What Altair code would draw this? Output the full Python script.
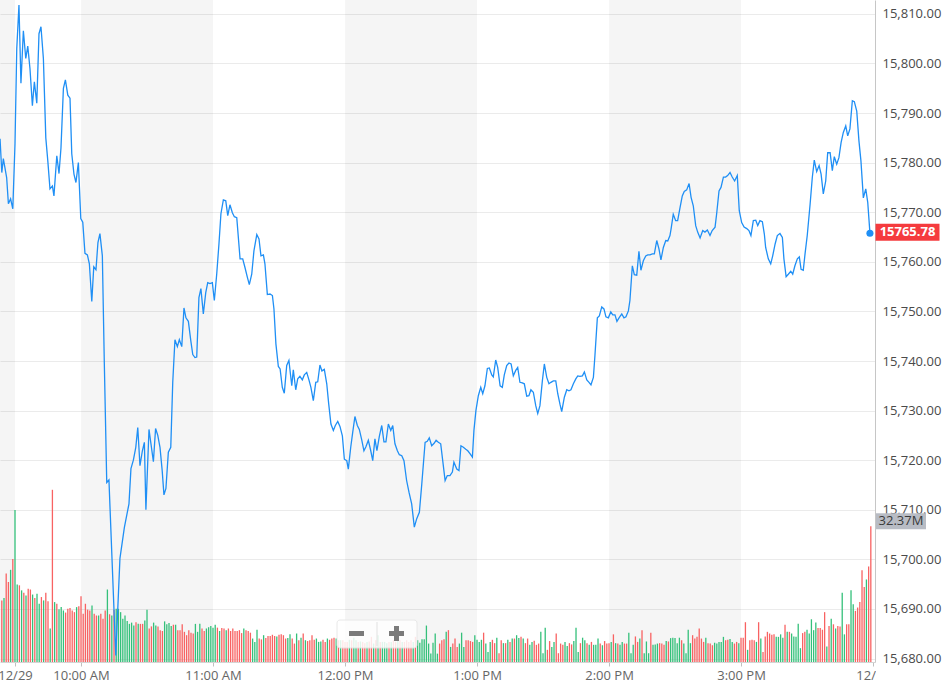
import json
import altair as alt
import pandas as pd

# ---------------- price series (minutes after 9:30, index level) ----------------
seg_a_min = [-6.8, -6.0, -5.3, -3.8, -3.0, -2.0, -1.0, 0.0, 0.8, 1.8, 2.7, 3.8, 4.9, 5.8, 6.8, 7.9, 8.8, 9.9,
             10.9, 11.8, 12.9, 14.0, 14.9, 15.9, 17.0, 17.7, 19.0, 20.0, 20.9, 22.0, 22.9, 24.0, 25.0, 25.8,
             26.8, 27.7, 28.8, 29.9, 30.8, 31.8, 32.9, 33.8, 34.9, 35.8, 36.8, 37.7, 38.6, 39.7, 40.6, 41.7, 42.7]
seg_a_val = [15784.8, 15778.0, 15780.8, 15777.0, 15771.7, 15772.7, 15770.7, 15783.8, 15803.0, 15811.8, 15796.0,
             15806.6, 15801.0, 15803.5, 15799.0, 15791.5, 15796.3, 15792.0, 15806.0, 15807.4, 15801.0, 15785.0,
             15780.4, 15774.7, 15775.3, 15773.3, 15781.4, 15777.8, 15783.0, 15795.0, 15796.7, 15793.6, 15793.0,
             15781.8, 15777.7, 15776.0, 15780.0, 15768.7, 15768.0, 15761.7, 15761.4, 15759.6, 15752.0, 15759.0,
             15758.4, 15763.9, 15765.7, 15761.2, 15739.5, 15715.5, 15716.0]

seg_b_min = [45.8, 47.7, 49.7, 51.8, 52.7, 53.8, 54.9, 55.8, 56.8, 57.9, 58.8, 59.5, 60.9, 61.8, 62.9, 63.9, 64.9,
             65.9, 66.9, 67.7, 68.6, 69.7, 70.8, 71.7, 72.7, 73.8, 74.7, 75.8, 76.8, 77.7, 78.8, 79.9, 80.8, 81.8,
             82.6, 83.6, 84.5, 85.6, 86.7, 87.6, 88.6, 89.7, 90.6, 91.7, 92.7, 93.6, 94.7, 95.8, 96.7, 97.7, 98.8,
             99.7, 100.8]
seg_b_val = [15680.6, 15700.2, 15706.4, 15711.2, 15718.3, 15720.0, 15722.6, 15726.6, 15718.9, 15721.9, 15723.6,
             15710.0, 15726.2, 15723.3, 15719.7, 15726.4, 15725.0, 15722.6, 15717.9, 15713.0, 15714.3, 15721.6,
             15722.6, 15735.7, 15744.3, 15742.9, 15744.3, 15742.9, 15750.7, 15748.7, 15748.0, 15744.1, 15741.3,
             15740.7, 15740.8, 15752.8, 15754.6, 15749.5, 15753.8, 15755.8, 15755.6, 15755.8, 15752.2, 15757.6,
             15763.6, 15769.7, 15772.5, 15772.3, 15769.3, 15771.5, 15769.9, 15769.1, 15768.9]

seg_c_min = [102.3, 103.5, 104.5, 105.6, 106.5, 107.6, 108.6, 109.9, 110.9, 111.8, 112.9, 113.6, 114.7, 115.9,
             117.0, 117.7, 118.6, 119.7, 120.5, 121.5, 122.4, 123.5, 124.5, 125.8, 126.5, 127.6, 128.5, 129.5,
             130.6, 131.5, 132.6, 133.6, 134.5, 135.6, 136.7, 137.6, 138.6, 139.5, 140.6, 141.7, 142.6, 143.6,
             144.7, 145.6, 146.7, 147.7, 148.8, 149.7, 150.8, 151.5, 152.6, 153.5, 154.5, 155.6, 156.5, 157.6,
             158.6, 159.5, 160.6, 161.7, 162.6, 163.6, 164.5, 165.6, 166.7, 167.7, 168.6, 169.7, 170.8, 171.7,
             172.7, 173.8, 174.7, 175.8, 176.8]
seg_c_val = [15760.6, 15760.6, 15758.9, 15756.9, 15755.4, 15757.5, 15762.2, 15765.5, 15764.6, 15761.2, 15761.4,
             15759.6, 15753.4, 15753.5, 15753.2, 15750.5, 15743.4, 15738.9, 15738.4, 15734.7, 15733.5, 15739.1,
             15740.1, 15735.0, 15738.2, 15734.2, 15736.4, 15736.9, 15736.2, 15737.2, 15737.7, 15736.2, 15734.7,
             15732.0, 15735.7, 15735.8, 15739.2, 15738.0, 15738.3, 15735.4, 15731.3, 15727.3, 15726.0, 15727.0,
             15727.8, 15726.8, 15724.9, 15720.2, 15719.9, 15718.2, 15722.6, 15725.6, 15728.8, 15727.0, 15726.2,
             15724.1, 15721.9, 15722.7, 15724.0, 15721.9, 15719.9, 15724.3, 15721.9, 15724.8, 15727.0, 15723.7,
             15723.7, 15727.3, 15726.0, 15727.0, 15723.3, 15721.9, 15721.1, 15720.9, 15719.9]

seg_d_min = [178.0, 179.1, 180.3, 181.5, 182.6, 183.8, 184.9, 186.4, 187.4, 188.3, 189.4, 190.5, 191.4, 192.4,
             193.5, 195.5, 196.5, 197.7, 198.8, 199.5, 200.8, 201.8, 202.7, 203.8, 204.9, 205.8, 206.8, 207.9,
             208.6, 209.5, 210.6, 211.7, 212.6, 213.6, 214.7, 215.6, 216.7, 217.4, 218.5, 219.4, 220.5, 221.5,
             222.4, 223.5, 224.5, 225.5, 226.5, 227.6, 228.5, 229.5, 230.6, 231.5, 232.6, 233.6, 234.5, 235.6,
             236.7, 237.6, 238.6, 239.7, 240.6, 241.7, 242.7, 243.6, 244.7, 245.8, 246.7, 247.7, 248.5, 249.7,
             250.8, 251.8, 252.7, 253.8, 254.9, 255.8, 256.8, 257.9, 258.8, 259.9, 260.9, 261.8, 262.9]
seg_d_val = [15715.9, 15713.5, 15711.2, 15706.5, 15708.2, 15709.5, 15715.2, 15723.6, 15723.8, 15724.5, 15722.9,
             15723.4, 15724.0, 15723.6, 15723.3, 15715.9, 15716.9, 15716.9, 15717.6, 15719.6, 15718.2, 15717.9,
             15722.9, 15722.6, 15722.2, 15721.9, 15721.3, 15720.6, 15726.0, 15730.0, 15733.0, 15734.7, 15733.4,
             15735.0, 15738.5, 15738.6, 15737.2, 15736.8, 15740.2, 15738.7, 15735.0, 15734.7, 15737.2, 15739.1,
             15739.6, 15739.4, 15737.0, 15738.1, 15738.7, 15735.7, 15735.6, 15735.4, 15732.9, 15733.0, 15734.2,
             15733.7, 15731.0, 15729.4, 15731.0, 15736.0, 15739.4, 15736.7, 15735.4, 15735.7, 15736.0, 15736.0,
             15733.4, 15731.3, 15729.8, 15732.7, 15734.2, 15734.0, 15734.2, 15735.4, 15736.4, 15737.0, 15736.9,
             15737.0, 15737.8, 15736.2, 15735.7, 15735.2, 15736.7]

seg_e_min = [263.6, 264.7, 265.6, 266.7, 267.7, 268.6, 269.7, 270.8, 271.7, 272.7, 273.6, 274.7, 275.8, 276.8,
             277.7, 278.8, 279.5, 280.6, 281.5, 282.6, 283.6, 284.5, 285.6, 286.7, 287.6, 288.6, 289.7, 290.6,
             291.7, 292.7, 293.6, 294.7, 295.8, 296.7, 297.7, 298.2, 299.2, 300.3, 301.2, 302.3, 303.3, 304.2,
             305.3, 306.4, 307.3, 308.3, 309.4, 310.3, 311.4]
seg_e_val = [15741.1, 15748.7, 15749.1, 15750.9, 15750.5, 15748.9, 15748.7, 15749.9, 15749.3, 15749.3, 15748.0,
             15748.8, 15749.5, 15748.7, 15748.9, 15750.1, 15752.2, 15759.2, 15757.4, 15757.3, 15762.1, 15758.3,
             15760.2, 15761.2, 15761.4, 15761.4, 15761.6, 15761.6, 15764.3, 15762.6, 15760.4, 15762.9, 15764.3,
             15764.2, 15765.3, 15766.6, 15769.6, 15768.3, 15768.3, 15771.0, 15773.3, 15774.2, 15774.5, 15775.8,
             15773.0, 15771.3, 15767.3, 15766.0, 15764.8]

seg_f_min = [312.6, 313.6, 314.7, 315.9, 316.9, 318.2, 318.9, 320.0, 320.9, 322.0, 323.0, 323.9, 325.0, 326.0,
             327.1, 328.3, 329.2, 330.3, 331.4, 332.6, 333.6, 334.5, 335.6, 336.7, 337.6, 338.6, 339.7, 340.6,
             341.2, 342.4, 343.5, 344.4, 345.5, 346.5, 347.7, 348.8, 349.5, 350.5, 351.5, 352.6, 353.5, 354.5,
             355.6, 356.5, 357.3, 358.3, 359.1, 360.1, 361.4, 362.4, 363.3, 364.4, 365.5, 366.4, 367.4, 368.5,
             369.4, 370.5, 371.5, 372.4, 373.5, 374.5, 375.5, 376.5, 377.6, 378.5, 379.5, 380.6, 381.5, 382.6,
             383.6, 384.5, 385.6, 386.7, 387.6, 388.6]
seg_f_val = [15766.3, 15766.0, 15766.4, 15765.3, 15766.3, 15767.0, 15769.6, 15774.3, 15775.0, 15777.1, 15777.1,
             15777.4, 15778.0, 15777.1, 15776.3, 15777.4, 15770.3, 15767.9, 15767.0, 15766.7, 15766.3, 15765.3,
             15768.3, 15768.4, 15767.3, 15768.3, 15768.1, 15765.6, 15762.9, 15760.6, 15759.6, 15761.2, 15763.6,
             15765.3, 15765.7, 15764.9, 15760.6, 15757.0, 15757.5, 15758.1, 15757.5, 15759.2, 15760.6, 15761.0,
             15758.5, 15758.3, 15761.6, 15765.3, 15771.6, 15777.0, 15780.5, 15778.2, 15779.4, 15777.7, 15773.7,
             15776.3, 15782.0, 15782.0, 15778.4, 15781.2, 15779.7, 15781.0, 15784.1, 15786.1, 15787.4, 15785.4,
             15786.8, 15792.5, 15792.3, 15790.4, 15784.4, 15780.4, 15772.9, 15774.7, 15772.0, 15765.78]

# ---------------- volume (millions), one bar per minute from -6 ----------------
vol_1 = [14.7, 15.3, 21.1, 19.1, 22.0, 24.6, 36.3, 18.5, 18.3, 17.1, 16.5, 15.9, 17.5, 17.3, 16.1, 15.3, 16.3, 13.9,
         15.5, 14.7, 16.5, 14.5, 8.0, 41.1, 14.3, 13.9, 12.6, 13.1, 12.3, 11.8, 12.7, 12.9, 12.3, 11.9, 13.1, 13.3,
         15.7, 11.5, 13.9, 12.5, 12.3, 13.5, 11.5, 11.1, 11.1, 11.5, 10.3, 12.3, 17.3, 11.4, 11.1, 12.5, 12.7, 12.7,
         11.9, 10.3, 11.1, 9.8, 9.1, 9.4, 8.7, 9.5, 9.1, 9.1, 9.1, 9.9, 12.5, 8.0, 8.5, 9.4, 8.7, 8.5, 7.6, 7.4, 9.7,
         9.0, 9.3, 8.6, 8.9, 8.9, 7.6, 7.6, 9.0, 7.2, 6.4, 7.6, 7.0, 6.8, 9.1, 7.2, 9.1, 8.0, 7.4, 8.0, 8.3, 8.6, 8.2,
         8.9, 8.2, 7.4, 8.1, 8.0, 7.6, 8.0, 7.4, 8.0, 7.4, 7.4, 7.6]
dir_1 = "rgrrgrggrg" "rgrrgrggrg" "rrgrgrgggr" "rrrrgrrrrr" "rgrrgrrrgr" "grgggggggg" "grgrrggrrg" \
        "grrrggggrg" "rrrrrrrrgg" "grrgggggrg" "rrgrrrrrr"

vol_2 = [6.9, 8.0, 7.6, 7.4, 7.0, 5.6, 4.8, 7.7, 5.6, 5.4, 6.4, 5.7, 6.2, 6.2, 6.5, 6.2, 6.1, 6.5, 6.6, 6.4, 5.6, 5.7,
         6.6, 5.6, 4.4, 6.8, 5.2, 5.8, 6.8, 5.2, 5.0, 5.2, 6.4, 5.3, 5.6, 4.8, 4.9, 5.3, 4.8, 5.6, 5.3, 5.6, 5.8, 5.6,
         5.2, 5.2, 5.2, 4.8, 4.8, 5.3, 5.2, 5.8, 5.2, 4.8, 4.9, 4.8, 4.5, 4.8, 4.9, 6.0, 4.4, 5.2, 6.4, 4.8, 4.8, 4.8,
         4.5, 4.8, 4.8, 5.2, 4.8, 5.2, 5.2, 4.8, 4.8, 5.2, 4.8, 5.2, 4.8, 6.0, 5.2, 4.6, 5.4, 5.4, 8.7, 4.4, 2.0, 4.6,
         6.8, 2.0, 4.4, 5.2, 5.4, 7.2, 7.6, 3.6, 4.4, 5.6, 3.6, 4.4, 7.0, 3.6, 5.2, 5.2, 5.0]
dir_2 = "rgrrrgggrr" "grrrrrgrrr" "rggrrgrgrg" "rrrrgggrrg" "rrrgrgrrrg" "rggrgrrgrr" "grgrgggrgr" \
        "rgrgrrrrgr" "gggggggggg" "rrrgrgrrrg" "ggrrr"

vol_3 = [4.8, 6.4, 5.3, 4.8, 5.3, 7.0, 4.4, 2.4, 4.8, 5.3, 4.5, 5.8, 2.1, 5.2, 4.5, 4.5, 5.3, 4.8, 5.6, 5.6, 6.4, 5.7,
         6.0, 5.6, 4.5, 5.6, 4.1, 4.8, 5.1, 4.1, 4.4, 7.2, 2.1, 8.2, 2.9, 5.0, 3.6, 4.8, 6.8, 2.1, 4.4, 4.1, 4.8, 3.8,
         4.5, 4.2, 5.0, 8.2, 2.4, 4.5, 5.8, 5.2, 4.5, 4.1, 4.8, 4.1, 4.1, 5.6, 4.4, 4.0, 5.0, 4.4, 4.5, 4.8, 6.6, 4.5,
         4.4, 4.1, 4.8, 4.4, 4.4, 7.0, 2.1, 4.1, 6.1, 4.8, 5.6, 7.6, 2.1, 4.9, 2.1, 7.0, 4.1, 4.2, 4.4, 4.5, 4.4, 4.1,
         5.0, 4.9, 5.7, 5.8, 5.7, 4.5, 5.8, 5.2, 4.4, 2.1, 7.7, 4.5, 6.4, 5.6, 6.0, 8.0, 5.6]
dir_3 = "rggggrgggr" "rgrrgrgrgr" "ggrgrrggrr" "rgggrrggrr" "rrggrrgggr" "ggrgrgggrg" "rrrgrgrggr" \
        "rgggrrgrgg" "grgggrrrgr" "gggggrgggg" "rrrrr"

vol_4 = [4.8, 5.8, 4.5, 4.4, 4.0, 4.6, 4.4, 4.8, 4.8, 6.0, 5.2, 5.3, 5.5, 4.8, 4.4, 4.8, 4.5, 5.8, 5.8, 9.5, 2.9, 5.2,
         5.3, 5.2, 4.8, 9.5, 5.6, 2.4, 6.1, 7.2, 6.8, 6.5, 6.6, 6.0, 6.0, 6.6, 5.8, 8.9, 7.2, 7.2, 6.8, 6.1, 6.0, 9.1,
         3.3, 6.9, 7.2, 7.7, 6.8, 10.2, 7.6, 9.4, 8.1, 8.1, 7.7, 11.9, 3.7, 8.6, 10.3, 9.0, 8.0, 8.6, 8.5, 16.5, 6.6,
         9.0, 9.0, 17.1, 13.8, 12.2, 13.0, 14.3, 21.9, 17.9, 19.7, 22.8, 32.37]
dir_4 = "rgrrrggggg" "rrggrrgrrr" "grrrgrgrrr" "rrrggggrgr" "gggggrrggg" "ggrrrrgrgr" "grrggrrggr" "rrrrgrr"

# ---------------- axis content ----------------
tick_minutes = [0, 30, 90, 150, 210, 270, 330, 390]
tick_labels = ["12/29", "10:00 AM", "11:00 AM", "12:00 PM", "1:00 PM", "2:00 PM", "3:00 PM", "12/30"]
price_ticks = list(range(15680, 15811, 10))
band_start = [-7, 30, 150, 270]
band_end = [0, 90, 210, 330]

# ---------------- assemble ----------------
price_min = seg_a_min + seg_b_min + seg_c_min + seg_d_min + seg_e_min + seg_f_min
price_val = seg_a_val + seg_b_val + seg_c_val + seg_d_val + seg_e_val + seg_f_val
assert len(price_min) == len(price_val)
vols = vol_1 + vol_2 + vol_3 + vol_4
dirs = list(dir_1 + dir_2 + dir_3 + dir_4)
assert len(vols) == len(dirs), (len(vols), len(dirs))
vol_min = list(range(-6, -6 + len(vols)))

price_df = pd.DataFrame({"minute": price_min, "price": price_val})
vol_df = pd.DataFrame({"minute": vol_min, "volume": vols, "dir": dirs})
band_df = pd.DataFrame({"start": band_start, "end": band_end})
last_df = price_df.tail(1).assign(label=lambda d: d["price"].map(lambda v: f"{v:.2f}"))
last_vol_df = vol_df.tail(1).assign(label=lambda d: d["volume"].map(lambda v: f"{v:.2f}M"))

FONT = "Open Sans"
LINE = "#1f8ff5"
GREEN = "#34c07a"
RED = "#f86262"

xscale = alt.Scale(domain=[-6.82, 390.9], nice=False, zero=False)
label_expr = f"{json.dumps(tick_labels)}[indexof({json.dumps(tick_minutes)}, datum.value)]"
xaxis = alt.Axis(values=tick_minutes, labelExpr=label_expr, title=None, grid=False, orient="bottom",
                 domainColor="#d4d4d4", tickColor="#c0c0c0", tickSize=4, labelPadding=3,
                 labelFontSize=13, labelColor="#666666", labelFont=FONT, labelFlush=False,
                 labelOverlap=False)
yscale = alt.Scale(domain=[15679.3, 15812.8], nice=False, zero=False)
yaxis = alt.Axis(orient="right", values=price_ticks, format=",.2f", title=None, grid=True,
                 gridColor="#ebebeb", gridWidth=1, domainColor="#c6c6c6", ticks=False,
                 labelPadding=7, labelFontSize=13, labelColor="#4a4a4a", labelFont=FONT)
vscale = alt.Scale(domain=[0, 158], nice=False, zero=True)

bands = alt.Chart(band_df).mark_rect(color="#000000", opacity=0.04, clip=True).encode(
    x=alt.X("start:Q", scale=xscale, axis=xaxis), x2="end:Q")

vol_bars = alt.Chart(vol_df).mark_rule(strokeWidth=1.3).encode(
    x=alt.X("minute:Q", scale=xscale, axis=xaxis),
    y=alt.Y("volume:Q", scale=vscale, axis=None),
    y2=alt.datum(0),
    color=alt.Color("dir:N", scale=alt.Scale(domain=["g", "r"], range=[GREEN, RED]), legend=None))

vol_box = alt.Chart(last_vol_df).mark_point(
    shape="M-1,-0.32H1V0.32H-1Z", size=2500, filled=True, color="#b8bcc4", opacity=1,
    strokeWidth=0, yOffset=-5, clip=False).encode(
    x=alt.value(901), y=alt.Y("volume:Q", scale=vscale, axis=None))
vol_txt = alt.Chart(last_vol_df).mark_text(
    font=FONT, fontSize=13, color="#3a3a3a", yOffset=-5, baseline="middle", align="center",
    clip=False).encode(x=alt.value(901), y=alt.Y("volume:Q", scale=vscale, axis=None), text="label:N")
vol_layer = alt.layer(vol_bars, vol_box, vol_txt)

line = alt.Chart(price_df).mark_line(color=LINE, strokeWidth=1.3).encode(
    x=alt.X("minute:Q", scale=xscale, axis=xaxis),
    y=alt.Y("price:Q", scale=yscale, axis=yaxis))
dot = alt.Chart(last_df).mark_circle(color=LINE, size=50, opacity=1).encode(
    x=alt.X("minute:Q", scale=xscale, axis=xaxis), y=alt.Y("price:Q", scale=yscale, axis=yaxis))
price_box = alt.Chart(last_df).mark_point(
    shape="M-1,-0.266H1V0.266H-1Z", size=4096, filled=True, color="#f53b3e", opacity=1,
    strokeWidth=0, yOffset=-1, clip=False).encode(
    x=alt.value(907.5), y=alt.Y("price:Q", scale=yscale, axis=yaxis))
price_txt = alt.Chart(last_df).mark_text(
    font=FONT, fontSize=13, fontWeight="bold", color="white", yOffset=-1, baseline="middle",
    align="center", clip=False).encode(
    x=alt.value(907.5), y=alt.Y("price:Q", scale=yscale, axis=yaxis), text="label:N")
price_layer = alt.layer(line, dot, price_box, price_txt)

one = pd.DataFrame({"k": [0]})


def box(x0, x1, y0, y1, **kw):
    return alt.Chart(one).mark_rect(clip=False, **kw).encode(
        x=alt.value(x0), x2=alt.value(x1), y=alt.value(y0), y2=alt.value(y1))


deco = alt.layer(
    box(876, 945, 667, 685, color="white"),                      # right panel hides the end label overflow
    box(337, 417, 620, 648, color="white", opacity=0.85, stroke="#e6e6e6", strokeWidth=1,
        cornerRadius=3),                                           # zoom control
    box(376.5, 377.5, 622, 646, color="#e2e2e2"),
    box(349, 364, 631, 636, color="#7b7b7b"),                     # minus
    box(389, 404, 631, 636, color="#7b7b7b"),                     # plus
    box(394, 399, 626, 641, color="#7b7b7b"),
)

chart = alt.layer(bands, vol_layer, price_layer, deco).resolve_scale(y="independent").properties(
    width=875, height=662,
    padding={"left": 0, "top": 0, "right": 70, "bottom": 23},
    autosize=alt.AutoSizeParams(type="none"),
    background="white",
).configure_view(stroke=None)

chart.save("out.html", embed_options={"renderer": "svg", "actions": False})
